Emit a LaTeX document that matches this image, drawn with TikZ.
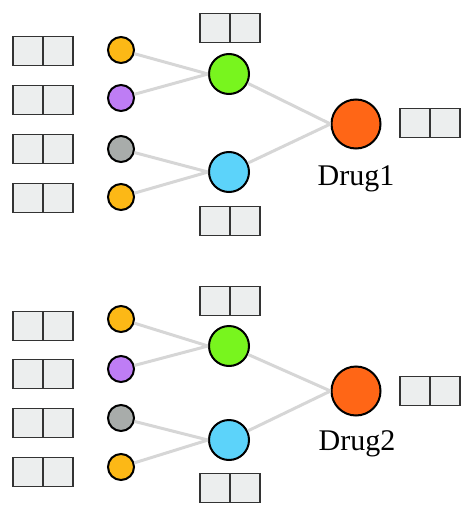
\documentclass[tikz,border=0pt]{standalone}
\usepackage{fontspec}
\setmainfont{Liberation Serif}
\usepackage{xcolor}
\usetikzlibrary{positioning}

\definecolor{amber}{RGB}{252,184,22}
\definecolor{lilac}{RGB}{190,125,245}
\definecolor{stone}{RGB}{168,172,170}
\definecolor{lime}{RGB}{120,245,30}
\definecolor{sky}{RGB}{92,211,250}
\definecolor{flame}{RGB}{255,102,22}
\definecolor{cellgray}{RGB}{236,238,238}
\definecolor{linkgray}{RGB}{214,214,214}

\begin{document}
\begin{tikzpicture}[
    x=1pt, y=-1pt,
    pair/.style={rectangle, draw=black!80, line width=1.6pt, fill=cellgray, minimum width=60pt, minimum height=29pt, inner sep=0pt,
        path picture={\draw[black!80, line width=1.6pt] (path picture bounding box.north) -- (path picture bounding box.south);}},
    dot/.style={circle, draw=black, line width=2pt, minimum size=26pt, inner sep=0pt},
    hub/.style={circle, draw=black, line width=2pt, minimum size=40pt, inner sep=0pt},
    drug/.style={circle, draw=black, line width=2pt, minimum size=49pt, inner sep=0pt, fill=flame},
    link/.style={draw=linkgray, line width=3pt},
    druglabel/.style={font=\fontsize{30}{30}\selectfont, inner sep=0pt, anchor=base}
]
    \useasboundingbox (0,0) rectangle (474,519);

    % first drug
    \node[pair] (tb1) at (43,51) {};
    \node[pair] (tb2) at (43,100) {};
    \node[pair] (tb3) at (43,149) {};
    \node[pair] (tb4) at (43,198) {};
    \node[dot, fill=amber] (ta) at (121,50) {};
    \node[dot, fill=lilac] (tb) at (121,98) {};
    \node[dot, fill=stone] (tc) at (121,149) {};
    \node[dot, fill=amber] (td) at (121,197) {};
    \node[hub, fill=lime] (tg) at (229,74) {};
    \node[hub, fill=sky] (tu) at (229,172) {};
    \node[pair] (tgb) at (230,28) {};
    \node[pair] (tub) at (230,221) {};
    \node[drug] (d1) at (356,124) {};
    \node[pair] (d1b) at (430,123) {};
    \node[druglabel] (d1t) at (356,185) {Drug1};

    \draw[link] (ta) -- (tg.west);
    \draw[link] (tb) -- (tg.west);
    \draw[link] (tc) -- (tu.west);
    \draw[link] (td) -- (tu.west);
    \draw[link] (tg) -- (d1.west);
    \draw[link] (tu) -- (d1.west);

    % second drug
    \node[pair] (bb1) at (43,326) {};
    \node[pair] (bb2) at (43,374) {};
    \node[pair] (bb3) at (43,423) {};
    \node[pair] (bb4) at (43,472) {};
    \node[dot, fill=amber] (ba) at (121,319) {};
    \node[dot, fill=lilac] (bb) at (121,369) {};
    \node[dot, fill=stone] (bc) at (121,418) {};
    \node[dot, fill=amber] (bd) at (121,467) {};
    \node[hub, fill=lime] (bg) at (229,346) {};
    \node[hub, fill=sky] (bu) at (229,440) {};
    \node[pair] (bgb) at (230,301) {};
    \node[pair] (bub) at (230,488) {};
    \node[drug] (d2) at (356,391) {};
    \node[pair] (d2b) at (430,391) {};
    \node[druglabel] (d2t) at (357,450) {Drug2};

    \draw[link] (ba) -- (bg.west);
    \draw[link] (bb) -- (bg.west);
    \draw[link] (bc) -- (bu.west);
    \draw[link] (bd) -- (bu.west);
    \draw[link] (bg) -- (d2.west);
    \draw[link] (bu) -- (d2.west);
\end{tikzpicture}
\end{document}
